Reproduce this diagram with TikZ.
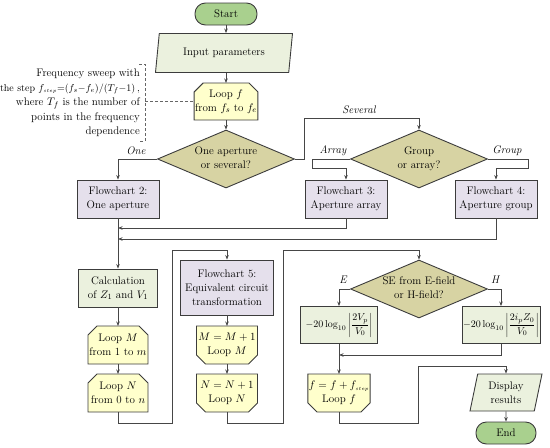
\documentclass[tikz,border=0pt]{standalone}
\usepackage{amsmath}
\usepackage{fontspec}
\usetikzlibrary{shapes.geometric,arrows.meta,backgrounds}
\definecolor{termc}{RGB}{169,208,142}
\definecolor{lgc}{RGB}{235,241,222}
\definecolor{yelc}{RGB}{255,255,204}
\definecolor{khc}{RGB}{215,211,163}
\definecolor{lavc}{RGB}{229,224,236}
\definecolor{bordc}{RGB}{60,60,60}
\definecolor{linec}{RGB}{70,70,70}
\newcommand{\fs}{\fontsize{11}{14}\selectfont}
\newcommand{\twol}[2]{\makebox[0pt]{\begin{tabular}{@{}c@{}}#1\\#2\end{tabular}}}
\newcommand{\chtop}[1]{\filldraw[loopdraw] ([yshift=-9pt]#1.north west) -- ([xshift=9pt]#1.north west) -- ([xshift=-9pt]#1.north east) -- ([yshift=-9pt]#1.north east) -- (#1.south east) -- (#1.south west) -- cycle;}
\newcommand{\chbot}[1]{\filldraw[loopdraw] ([yshift=9pt]#1.south west) -- ([xshift=9pt]#1.south west) -- ([xshift=-9pt]#1.south east) -- ([yshift=9pt]#1.south east) -- (#1.north east) -- (#1.north west) -- cycle;}
\begin{document}
\begin{tikzpicture}[x=1pt,y=-1pt,
  box/.style={draw=bordc, line width=0.9pt, align=center, inner sep=1pt, font=\fs},
  term/.style={box, rectangle, rounded corners=10.5pt, fill=termc},
  io/.style={box, trapezium, trapezium left angle=72, trapezium right angle=108, trapezium stretches body, fill=lgc},
  proc/.style={box, rectangle, fill=lgc},
  fcbox/.style={box, rectangle, fill=lavc},
  loopn/.style={rectangle, align=center, inner sep=1pt, outer sep=0pt, font=\fs},
  loopdraw/.style={draw=bordc, line width=0.9pt, fill=yelc},
  diam/.style={box, diamond, aspect=2.35, minimum width=137pt, minimum height=58pt, inner sep=0pt, fill=khc},
  conn/.style={draw=linec, line width=0.7pt, -{Stealth[length=4.5pt,width=3.5pt]}},
  dsh/.style={draw=black!60, line width=0.7pt, dash pattern=on 3pt off 2pt},
  lab/.style={font=\fs\itshape, inner sep=0pt}
]
\useasboundingbox (0,0) rectangle (550,448);

% nodes
\node[term, minimum width=62pt, minimum height=22pt] (start) at (226,14) {Start};
\node[io, minimum width=137pt, minimum height=39pt] (inp) at (224,53) {Input parameters};
\node[loopn, minimum width=63pt, minimum height=37pt] (loopf) at (226,101.5) {Loop $f$\\from $f_s$ to $f_e$};
\node[diam] (d1) at (226,159) {\twol{One aperture}{or several?}};
\node[fcbox, minimum width=82pt, minimum height=38pt] (fc2) at (118,199) {Flowchart 2:\\One aperture};
\node[diam] (d2) at (419,159) {\twol{Group}{or array?}};
\node[fcbox, minimum width=82pt, minimum height=38pt] (fc3) at (346,199) {Flowchart 3:\\Aperture array};
\node[fcbox, minimum width=82pt, minimum height=38pt] (fc4) at (496,199) {Flowchart 4:\\Aperture group};
\node[proc, minimum width=79pt, minimum height=38pt] (calc) at (118,288) {Calculation\\of $Z_1$ and $V_1$};
\node[loopn, minimum width=60pt, minimum height=38pt] (loopM) at (118,345) {Loop $M$\\from 1 to $m$};
\node[loopn, minimum width=60pt, minimum height=38pt] (loopN) at (118,393) {Loop $N$\\from 0 to $n$};
\node[fcbox, minimum width=93pt, minimum height=55pt] (fc5) at (227,287.5) {Flowchart 5:\\Equivalent circuit\\transformation};
\node[loopn, minimum width=61pt, minimum height=38pt] (incM) at (227,345) {$M=M+1$\\Loop $M$};
\node[loopn, minimum width=61pt, minimum height=38pt] (incN) at (227,393) {$N=N+1$\\Loop $N$};
\node[diam] (d3) at (419,289) {\twol{SE from E-field}{or H-field?}};
\node[proc, minimum width=77pt, minimum height=37pt, font=\fontsize{10}{12}\selectfont] (eb) at (339,325) {$-20\log_{10}\left|\dfrac{2V_p}{V_0}\right|$};
\node[proc, minimum width=78pt, minimum height=37pt, font=\fontsize{10}{12}\selectfont] (hb) at (501,325) {$-20\log_{10}\left|\dfrac{2i_pZ_0}{V_0}\right|$};
\node[loopn, minimum width=62pt, minimum height=38pt] (incf) at (339,393) {$f=f+f_{\scriptscriptstyle step}$\\Loop $f$};
\node[io, minimum width=72pt, minimum height=37pt] (disp) at (506,392.5) {Display\\results};
\node[term, minimum width=60pt, minimum height=22pt] (endn) at (506,433) {End};

% loop shapes behind their texts
\begin{pgfonlayer}{background}
\chtop{loopf}
\chtop{loopM}
\chtop{loopN}
\chbot{incM}
\chbot{incN}
\chbot{incf}
\end{pgfonlayer}

% annotation
\node[font=\fontsize{11}{14.5}\selectfont, align=right, inner sep=0pt, anchor=east] (ann) at (140,103)
 {Frequency sweep with\\
  {\fontsize{10}{14.5}\selectfont the step $f_{\scriptscriptstyle step}{=}(f_s{-}f_e)/(T_f{-}1)$\,,}\\
  where $T_f$ is the number of\\
  points in the frequency\\
  dependence};
\coordinate (brt) at (145,64);
\coordinate (brb) at (145,141);
\coordinate (brm) at (145,101.5);
\draw[dsh] ([xshift=-6pt]brt) -- (brt) -- (brb) -- ([xshift=-6pt]brb);
\draw[dsh] (brm) -- (loopf.west);

% labels
\node[lab] (lone) at (136,151) {One};
\node[lab] (lsev) at (359,110) {Several};
\node[lab] (larr) at (333,151) {Array};
\node[lab] (lgrp) at (507,151) {Group};
\node[lab] (lE) at (343,280) {E};
\node[lab] (lH) at (495,280) {H};

% coordinates
\coordinate (sevA) at (304,118);
\coordinate (arrA) at (312,168);
\coordinate (grpA) at (528,168);
\coordinate (j1) at (118,228);
\coordinate (j2) at (118,239);
\coordinate (b1) at (172,423);
\coordinate (t1) at (172,250);
\coordinate (b2) at (283,423);
\coordinate (t2) at (283,250);
\coordinate (j3) at (339,355);
\coordinate (b3) at (418,423);
\coordinate (t3) at (418,366);

% connectors
\draw[conn] (start.south) -- (start.south |- inp.north);
\draw[conn] (loopf.north |- inp.south) -- (loopf.north);
\draw[conn] (loopf.south) -- (d1.north);
\draw[conn] (d1.west) -| (fc2.north);
\draw[conn] (d1.east) -| (sevA) -| (d2.north);
\draw[conn] (d2.west) -| (arrA) -| (fc3.north);
\draw[conn] (d2.east) -| (grpA) -| (fc4.north);
\draw[conn] (fc3.south) |- (j1);
\draw[conn] (fc4.south) |- (j2);
\draw[conn] (fc2.south) -- (calc.north);
\draw[conn] (calc.south) -- (loopM.north);
\draw[conn] (loopM.south) -- (loopN.north);
\draw[conn] (loopN.south) |- (b1) -- (t1) -| (fc5.north);
\draw[conn] (fc5.south) -- (incM.north);
\draw[conn] (incM.south) -- (incN.north);
\draw[conn] (incN.south) |- (b2) -- (t2) -| (d3.north);
\draw[conn] (d3.west) -| (eb.north);
\draw[conn] (d3.east) -| (hb.north);
\draw[conn] (eb.south) -- (incf.north);
\draw[conn] (hb.south) |- (j3);
\draw[conn] (incf.south) |- (b3) -- (t3) -| (disp.north);
\draw[conn] (disp.south) -- (endn.north);
\end{tikzpicture}
\end{document}
